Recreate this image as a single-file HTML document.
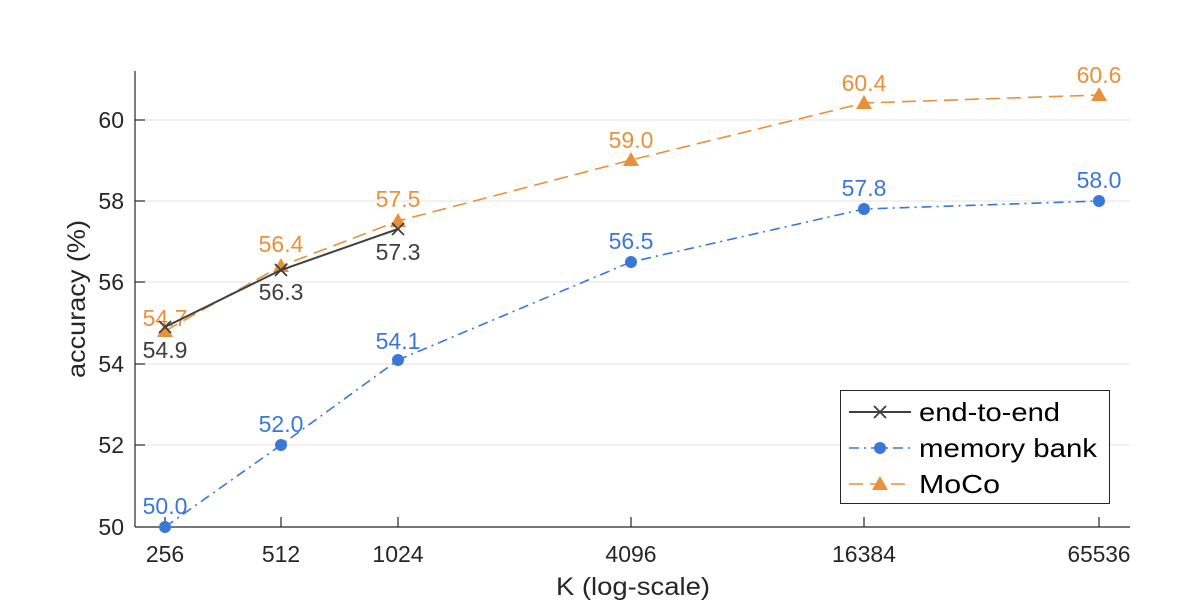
<!DOCTYPE html>
<html><head><meta charset="utf-8"><style>body{margin:0;background:#fff}svg{display:block;font-family:"Liberation Sans",Arial,sans-serif}</style></head>
<body>
<svg width="1198" height="612" viewBox="0 0 1198 612" xmlns="http://www.w3.org/2000/svg">
<g stroke="#e3e3e3" stroke-width="1">
<line x1="135" y1="120" x2="1130" y2="120"/><line x1="135" y1="201" x2="1130" y2="201"/>
<line x1="135" y1="282" x2="1130" y2="282"/><line x1="135" y1="364" x2="1130" y2="364"/>
<line x1="135" y1="445" x2="1130" y2="445"/>
</g>
<g stroke="#262626" stroke-width="1.2">
<line x1="135" y1="71" x2="135" y2="527"/><line x1="135" y1="527" x2="1130" y2="527"/>
<line x1="135" y1="120" x2="145" y2="120"/><line x1="135" y1="201" x2="145" y2="201"/>
<line x1="135" y1="282" x2="145" y2="282"/><line x1="135" y1="364" x2="145" y2="364"/>
<line x1="135" y1="445" x2="145" y2="445"/>
<line x1="165" y1="527" x2="165" y2="517"/><line x1="281" y1="527" x2="281" y2="517"/>
<line x1="398" y1="527" x2="398" y2="517"/><line x1="631" y1="527" x2="631" y2="517"/>
<line x1="864" y1="527" x2="864" y2="517"/><line x1="1099" y1="527" x2="1099" y2="517"/>
</g>
<g font-size="23" fill="#262626" text-anchor="end">
<text x="124" y="128">60</text><text x="124" y="209">58</text><text x="124" y="290">56</text>
<text x="124" y="372">54</text><text x="124" y="453">52</text><text x="124" y="535">50</text>
</g>
<g font-size="23" fill="#262626" text-anchor="middle">
<text x="165" y="562">256</text><text x="281" y="562">512</text><text x="398" y="562">1024</text>
<text x="631" y="562">4096</text><text x="864" y="562">16384</text><text x="1099" y="562" textLength="63" lengthAdjust="spacingAndGlyphs">65536</text>
<text x="633" y="595" textLength="154" lengthAdjust="spacingAndGlyphs" font-size="25">K (log-scale)</text>
<text transform="translate(85,299) rotate(-90)" textLength="158" lengthAdjust="spacingAndGlyphs" font-size="25">accuracy (%)</text>
</g>
<!-- memory bank -->
<polyline points="165,527 281,445 398,360 631,262 864,209 1099,201" fill="none" stroke="#3A78D8" stroke-width="1.6" stroke-dasharray="10,5,2,5"/>
<g fill="#3A78D8">
<circle cx="165" cy="527" r="6"/><circle cx="281" cy="445" r="6"/><circle cx="398" cy="360" r="6"/>
<circle cx="631" cy="262" r="6"/><circle cx="864" cy="209" r="6"/><circle cx="1099" cy="201" r="6"/>
</g>
<g font-size="23" fill="#3A78D8" text-anchor="middle">
<text x="165" y="514">50.0</text><text x="281" y="432">52.0</text><text x="398" y="349">54.1</text>
<text x="631" y="249">56.5</text><text x="864" y="196">57.8</text><text x="1099" y="188">58.0</text>
</g>
<!-- MoCo -->
<polyline points="165,331 281,266 398,221 631,160 864,103 1099,95" fill="none" stroke="#E8913A" stroke-width="1.6" stroke-dasharray="14,7"/>
<g fill="#E8913A">
<polygon points="165,323 157,337 173,337"/><polygon points="281,258 273,272 289,272"/>
<polygon points="398,213 390,227 406,227"/><polygon points="631,152 623,166 639,166"/>
<polygon points="864,95 856,109 872,109"/><polygon points="1099,87 1091,101 1107,101"/>
</g>
<g font-size="23" fill="#E8913A" text-anchor="middle">
<text x="165" y="326">54.7</text><text x="281" y="252">56.4</text><text x="398" y="207">57.5</text>
<text x="631" y="148">59.0</text><text x="864" y="91">60.4</text><text x="1099" y="83">60.6</text>
</g>
<!-- end-to-end -->
<polyline points="165,327 281,270 398,229" fill="none" stroke="#404040" stroke-width="2"/>
<g stroke="#404040" stroke-width="1.8">
<path d="M159,321l12,12M171,321l-12,12"/><path d="M275,264l12,12M287,264l-12,12"/><path d="M392,223l12,12M404,223l-12,12"/>
</g>
<g font-size="23" fill="#404040" text-anchor="middle">
<text x="165" y="358">54.9</text><text x="281" y="300">56.3</text><text x="398" y="260">57.3</text>
</g>
<!-- legend -->
<rect x="840.5" y="390.5" width="269" height="113" fill="#fff" stroke="#262626" stroke-width="1"/>
<line x1="849" y1="412" x2="911" y2="412" stroke="#404040" stroke-width="2"/>
<path d="M874,406l12,12M886,406l-12,12" stroke="#404040" stroke-width="1.8"/>
<line x1="849" y1="448" x2="911" y2="448" stroke="#3A78D8" stroke-width="1.6" stroke-dasharray="10,5,2,5"/>
<circle cx="880" cy="448" r="6" fill="#3A78D8"/>
<line x1="849" y1="484" x2="911" y2="484" stroke="#E8913A" stroke-width="1.6" stroke-dasharray="14,7"/>
<polygon points="880,476 872,490 888,490" fill="#E8913A"/>
<g font-size="26" fill="#000">
<text x="919" y="421" textLength="141" lengthAdjust="spacingAndGlyphs">end-to-end</text><text x="919" y="457" textLength="178" lengthAdjust="spacingAndGlyphs">memory bank</text><text x="919" y="493" textLength="81" lengthAdjust="spacingAndGlyphs">MoCo</text>
</g>
</svg>
</body></html>
